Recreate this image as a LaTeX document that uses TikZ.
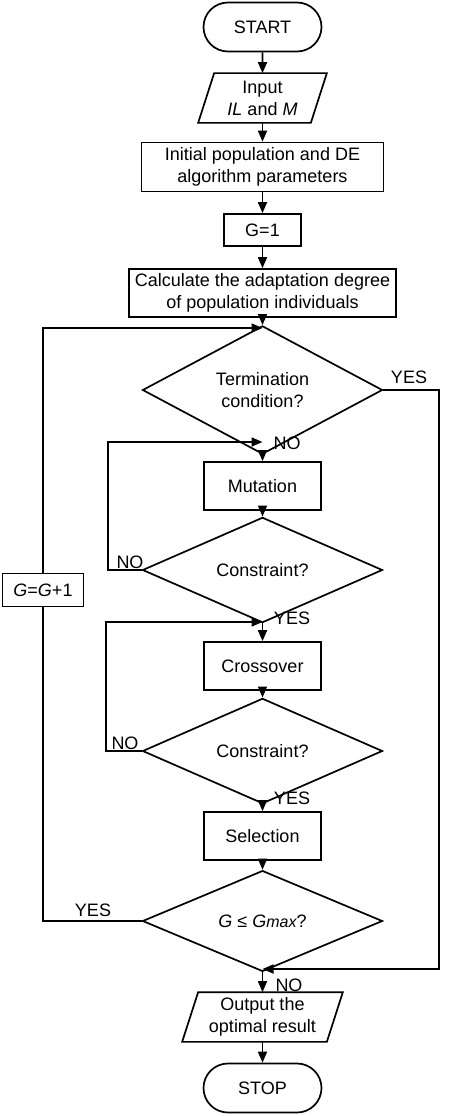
\documentclass[tikz,border=0pt]{standalone}
\usepackage{fontspec}
\setmainfont{Liberation Sans}
\usetikzlibrary{shapes.geometric,shapes.misc,arrows.meta}
\newcommand\myfs{\fontsize{18}{22}\selectfont}
\begin{document}
\begin{tikzpicture}[x=1pt,y=-1pt, line width=1.7pt,
  >={Triangle[length=11pt,width=9pt]},
  box/.style={draw, rectangle, inner sep=0pt, align=center, font=\myfs},
  termbox/.style={draw, rounded rectangle, minimum width=118pt, minimum height=49pt, inner sep=0pt, font=\myfs},
  iobox/.style={rectangle, inner sep=0pt, minimum height=48pt, align=center, font=\myfs},
  decbox/.style={draw, diamond, minimum width=240pt, minimum height=76pt, inner sep=0pt, align=center, font=\myfs},
  lbl/.style={inner sep=0pt, font=\myfs}
]
\useasboundingbox (0,0) rectangle (474,1116);
\node[termbox] (start) at (262.5,27) {START};
\node[iobox, minimum width=111pt] (input) at (262.5,98) {Input\\\textit{IL} and \textit{M}};
\draw ([xshift=-8pt]input.south west) -- ([xshift=-8pt]input.south east) -- ([xshift=8pt]input.north east) -- ([xshift=8pt]input.north west) -- cycle;
\node[box, minimum width=242pt, minimum height=49pt] (init) at (262.5,167) {Initial population and DE\\algorithm parameters};
\node[box, minimum width=77pt, minimum height=32pt] (g1) at (262.5,230) {G=1};
\node[box, minimum width=267pt, minimum height=48pt] (calc) at (262.5,293) {Calculate the adaptation degree\\of population individuals};
\node[decbox] (term) at (262.5,390) {Termination\\condition?};
\node[box, minimum width=117pt, minimum height=48pt] (mut) at (262.5,486) {Mutation};
\node[decbox, minimum height=75pt] (c1) at (262.5,570) {Constraint?};
\node[box, minimum width=117pt, minimum height=48pt] (cross) at (262.5,666) {Crossover};
\node[decbox] (c2) at (262.5,751) {Constraint?};
\node[box, minimum width=117pt, minimum height=48pt] (sel) at (262.5,836) {Selection};
\node[decbox] (gmax) at (262.5,921) {\textit{G} ≤ \textit{G}{\itshape\fontsize{16}{16}\selectfont max}?};
\node[box, minimum width=81pt, minimum height=33pt] (gp1) at (43,590) {\textit{G}=\textit{G}+1};
\node[iobox, minimum width=143pt] (out) at (262.5,1017) {Output the\\optimal result};
\draw ([xshift=-8pt]out.south west) -- ([xshift=-8pt]out.south east) -- ([xshift=8pt]out.north east) -- ([xshift=8pt]out.north west) -- cycle;
\node[termbox] (stop) at (262.5,1088) {STOP};

\coordinate (j1) at (262.5,328);
\coordinate (j2) at (262.5,442);
\coordinate (j3) at (262.5,622);
\coordinate (j4) at (262.5,969);

\draw[->] (start) -- (input);
\draw[->] (input) -- (init);
\draw[->] (init) -- (g1);
\draw[->] (g1) -- (calc);
\draw[->] (calc) -- (term);
\draw[->] (term) -- (mut);
\draw[->] (mut) -- (c1);
\draw[->] (c1) -- (cross);
\draw[->] (cross) -- (c2);
\draw[->] (c2) -- (sel);
\draw[->] (sel) -- (gmax);
\draw[->] (gmax) -- (out);
\draw[->] (out) -- (stop);

\draw (gmax.west) -| (gp1.south);
\draw[->] (gp1.north) |- (j1);
\draw[->] (c1.west) -- ++(-34,0) |- (j2);
\draw[->] (c2.west) -- ++(-36,0) |- (j3);
\draw[->] (term.east) -- ++(55.5,0) |- (j4);

\node[lbl] (lyes1) at (409,377) {YES};
\node[lbl] (lno1) at (287,443) {NO};
\node[lbl] (lno2) at (130,562) {NO};
\node[lbl] (lyes2) at (292,618) {YES};
\node[lbl] (lno3) at (125,743) {NO};
\node[lbl] (lyes3) at (292,798) {YES};
\node[lbl] (lyes4) at (93,910) {YES};
\node[lbl] (lno4) at (289,985) {NO};
\end{tikzpicture}
\end{document}
